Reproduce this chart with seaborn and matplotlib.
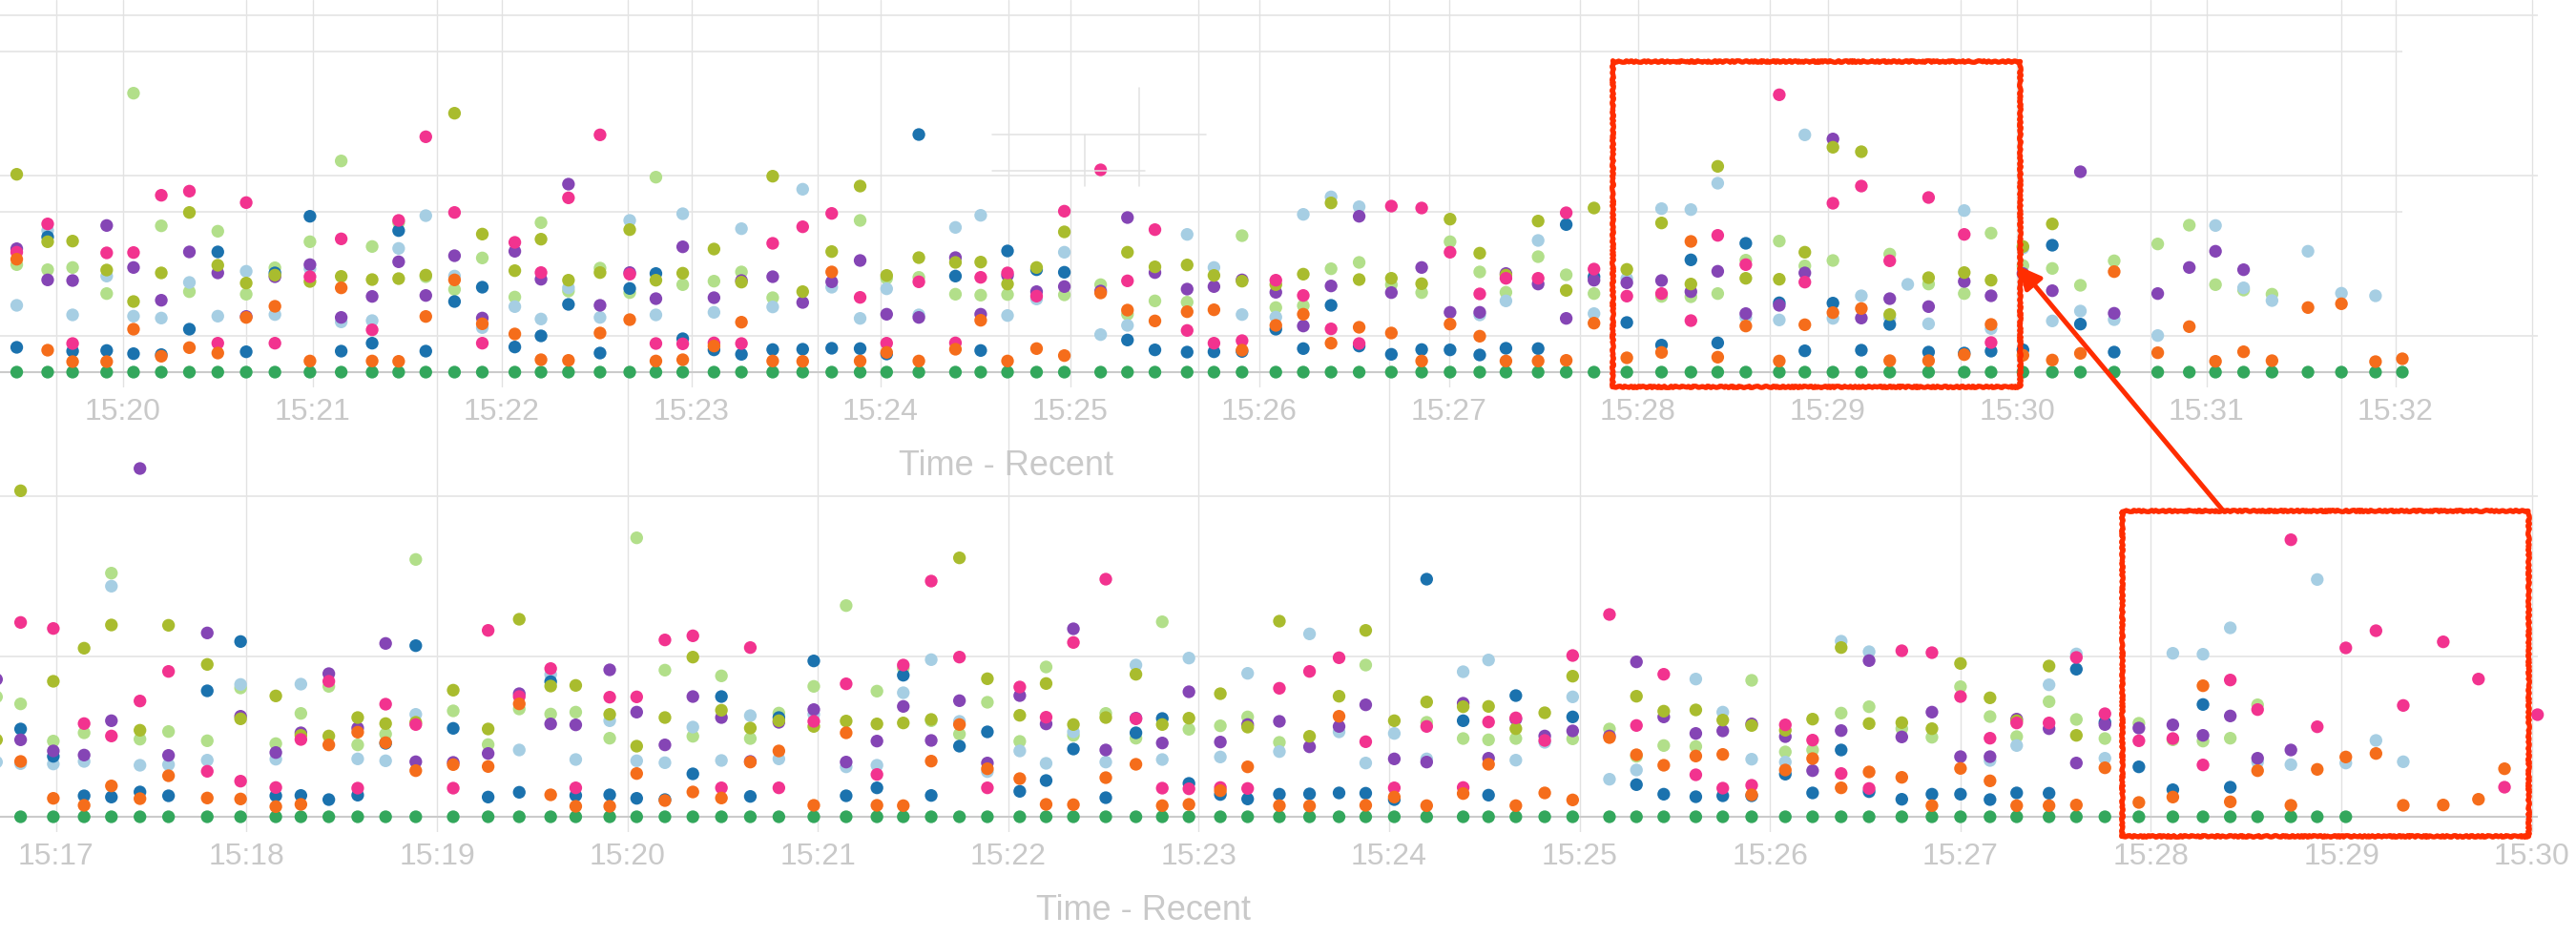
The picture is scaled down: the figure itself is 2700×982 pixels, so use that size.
'''
Two overlaid latency timelines from a dashboard screenshot, red pen marks on top.
y values are on a scale where one gridline step is 504.
'''

import seaborn as sns
import matplotlib.pyplot as plt
import pandas as pd
from matplotlib.lines import Line2D
from matplotlib.patches import Rectangle

N = None

# ---- upper chart, time in seconds after 15:00 ----
top_time = [1166.3, 1176.1, 1184.0, 1194.8, 1203.3, 1212.1, 1221.0, 1230.0, 1239.0, 1248.1,
            1259.2, 1269.1, 1278.9, 1287.3, 1295.9, 1305.0, 1313.8, 1324.1, 1332.4, 1341.1,
            1351.1, 1360.5, 1368.8, 1377.3, 1387.2, 1395.9, 1405.8, 1415.3, 1424.5, 1433.5,
            1441.9, 1452.1, 1463.7, 1471.7, 1480.2, 1489.4, 1498.2, 1509.7, 1518.2, 1526.9,
            1537.1, 1545.6, 1554.5, 1565.2, 1573.9, 1582.7, 1591.6, 1601.8, 1611.4, 1620.4,
            1629.8, 1638.1, 1648.3, 1657.2, 1666.0, 1676.4, 1687.4, 1696.7, 1705.2, 1714.1,
            1724.7, 1732.8, 1741.7, 1750.7, 1759.7, 1765.4, 1772.0, 1783.3, 1791.8, 1801.9,
            1811.2, 1820.1, 1830.8, 1844.6, 1854.6, 1862.9, 1871.8, 1880.8, 1892.2, 1902.8,
            1913.6, 1922.1]
top_zero = [0, 0, 0, 0, 0, 0, 0, 0, 0, 0, 0, 0, 0, 0, 0, 0, 0, 0, 0, 0,
            0, 0, 0, 0, 0, 0, 0, 0, 0, 0, 0, 0, 0, 0, 0, 0, 0, 0, 0, 0,
            0, 0, 0, 0, 0, 0, 0, 0, 0, 0, 0, 0, 0, 0, 0, 0, 0, 0, 0, 0,
            0, 0, 0, 0, 0, N, 0, 0, 0, 0, 0, 0, 0, 0, 0, 0, 0, 0, 0, 0,
            0, 0]
top_blue = [78, 425, 66, 68, 58, 55, 135, 378, 64, 312,
            490, 66, 91, 445, 66, 222, 267, 79, 114, 213,
            60, 263, 310, 105, 70, 56, 71, 72, 75, 74,
            57, 747, 302, 68, 381, 322, 314, N, 101, 70,
            63, 64, 65, 135, 74, 210, 82, 56, 71, 70,
            54, 75, 74, 464, 300, 156, 85, 353, 92, 405,
            218, 67, 217, 69, 150, N, 63, 60, 66, 70,
            399, 151, 63, N, N, N, N, N, N, N,
            N, N]
top_orange = [355, 69, 33, 33, 135, 50, 77, 60, 172, 207,
              35, 265, 35, 34, 175, 290, 152, 120, 39, 37,
              123, 165, 35, 39, 82, 157, 35, 34, 315, 35,
              62, 35, 72, 163, 35, 74, 52, 249, 195, 161,
              190, 196, 69, 147, 182, 91, 141, 123, 35, 151,
              113, 35, 35, 37, 154, 45, 62, 411, 47, 145,
              35, 149, 187, 200, 36, N, 36, 55, 150, 53,
              38, 59, 316, 61, 143, 34, 64, 36, 203, 215,
              33, 42]
top_pink = [377, 466, 90, 375, 376, 556, 569, 91, 533, 91,
            300, 419, 133, 477, 740, 502, 91, 408, 313, 548,
            746, 308, 90, 89, 92, 90, 405, 457, 499, 235,
            91, 284, 92, 298, 312, 239, 506, 636, 287, 448,
            131, 91, 99, 289, 241, 136, 90, 522, 516, 377,
            246, 295, 295, 501, 324, 239, 247, 162, 430, 338,
            872, 283, 531, 585, 350, N, 549, 433, 93, N,
            N, N, N, N, N, N, N, N, N, N,
            N, N]
top_purple = [388, 290, 288, 461, 329, 226, 378, 312, 175, 300,
              338, 172, 238, 347, 241, 366, 170, 380, 292, 591,
              210, 313, 231, 394, 234, 288, 300, 219, 284, 351,
              182, 172, 360, 182, 304, 253, 269, 255, 486, 313,
              261, 269, 290, 251, 145, 271, 490, 250, 329, 188,
              188, 310, 277, 169, 289, 281, 288, 253, 317, 184,
              210, 312, 733, 170, 231, N, 206, 285, 240, 310,
              256, 630, 185, 247, 329, 380, 322, N, N, N,
              N, N]
top_olive = [622, 410, 412, 321, 222, 312, 502, 336, 280, 305,
             285, 301, 291, 294, 305, 814, 434, 319, 418, 289,
             313, 448, 289, 311, 387, 283, 616, 253, 379, 585,
             304, 360, 345, 346, 277, 329, 441, N, 377, 331,
             337, 304, 286, 275, 308, 532, 291, 295, 278, 481,
             374, 305, 475, 257, 516, 323, 469, 277, 647, 295,
             292, 377, 707, 693, 181, N, 297, 313, 289, 395,
             466, N, N, N, N, N, N, N, N, N,
             N, N]
top_light_blue = [210, 445, 180, 302, 176, 170, 282, 176, 317, 181,
                  325, 158, 162, 389, 492, 302, 140, 206, 167, 265,
                  172, 477, 180, 498, 188, 451, 205, 575, 267, 169,
                  262, 180, 455, 493, 178, 230, 377, 118, 147, N,
                  433, 329, 181, 173, 496, 551, 520, N, N, N,
                  180, 224, 414, N, 184, 294, 514, 511, 594, 172,
                  164, 746, 169, 240, 170, 276, 152, 508, 137, 390,
                  161, 192, 165, 115, N, 461, 265, 225, 380, 248,
                  240, N]
top_light_green = [338, 322, 329, 247, 877, 460, 253, 443, 245, 328,
                   410, 664, 395, 470, 300, 260, 359, 236, 470, 255,
                   327, 250, 613, 275, 286, 315, 234, N, N, 477,
                   295, 298, 245, 242, 244, N, 243, 275, 182, 224,
                   220, N, 429, 203, 209, 325, 345, 275, 250, 410,
                   315, 251, 363, 306, 247, N, 238, 237, 247, 352,
                   412, 334, 351, N, 371, N, 277, 247, 437, 335,
                   326, 273, 350, 403, 462, 275, 258, 245, N, N,
                   N, N]

# ---- lower chart ----
low_time = [1001.2, 1008.8, 1019.1, 1028.8, 1037.4, 1046.4, 1055.4, 1067.6, 1078.1, 1089.2, 1097.1,
            1105.9, 1115.0, 1123.8, 1133.3, 1145.1, 1156.1, 1165.9, 1175.8, 1183.7, 1194.4,
            1202.9, 1211.8, 1220.6, 1229.6, 1238.7, 1247.7, 1258.7, 1268.9, 1278.6, 1286.9,
            1295.7, 1304.6, 1313.4, 1323.6, 1331.9, 1340.5, 1350.7, 1360.2, 1368.5, 1376.9,
            1386.8, 1395.4, 1405.4, 1414.9, 1424.2, 1432.6, 1441.6, 1451.8, 1463.3, 1471.3,
            1479.9, 1489.0, 1497.8, 1509.4, 1517.9, 1526.5, 1536.6, 1545.1, 1554.2, 1564.8,
            1573.4, 1582.4, 1591.2, 1601.5, 1611.0, 1620.0, 1629.3, 1637.7, 1647.9, 1656.5,
            1665.5, 1676.2, 1686.9, 1696.4, 1705.0, 1713.6, 1724.1, 1732.4, 1741.4, 1750.9,
            1759.5, 1772.1, 1783.2, 1791.4, 1801.8]
low_zero = [N, 0, 0, 0, 0, 0, 0, 0, 0, 0, 0,
            0, 0, 0, 0, 0, 0, 0, 0, 0, 0,
            0, 0, 0, 0, 0, 0, 0, 0, 0, 0,
            0, 0, 0, 0, 0, 0, 0, 0, 0, 0,
            0, 0, 0, 0, 0, 0, 0, 0, 0, 0,
            0, 0, 0, 0, 0, 0, 0, 0, 0, 0,
            0, 0, 0, 0, 0, 0, 0, 0, 0, 0,
            0, 0, 0, 0, 0, 0, 0, 0, 0, N,
            N, N, N, N, N]
low_blue = [N, 276, 190, 66, 62, 78, 66, 396, 551, 66, 67,
            54, 68, 231, 538, 278, 62, 77, 425, 67, 69,
            58, 54, 135, 378, 64, 312, 490, 66, 91, 445,
            67, 222, 267, 80, 114, 213, 60, 264, 309, 105,
            70, 56, 71, 72, 75, 74, 54, 747, 302, 68,
            381, N, 314, N, 101, 71, 63, 66, 66, 134,
            75, 210, 79, 55, 71, 71, 54, 75, 74, 464,
            297, 157, 85, 353, 93, N, N, N, N, N,
            N, N, N, N, N]
low_orange = [N, 174, 58, 36, 97, 57, 129, 59, 56, 32, 39,
              226, 266, 233, 145, 164, 158, 355, 69, 33, 33,
              136, 51, 78, 59, 172, 207, 36, 264, 36, 35,
              175, 290, 151, 120, 39, 38, 123, 165, 35, 39,
              82, 157, 35, 34, 316, 36, 62, 35, 73, 165,
              35, 75, 53, 249, 195, 162, 191, 196, 69, 147,
              183, 91, 141, 124, 35, 152, 113, 35, 35, 37,
              154, 45, 62, 412, 47, 145, 36, 149, 188, 199,
              36, 37, 55, 151, N]
low_pink = [N, 611, 592, 293, 254, 364, 457, 143, 112, 92, 243,
            426, 90, 354, 290, 90, 586, 378, 466, 91, 376,
            377, 556, 569, 91, 532, 91, 300, 418, 133, 477,
            741, 502, 91, 408, 313, 548, 747, 308, 90, 88,
            92, 89, 404, 457, 500, 236, 91, 284, 92, 298,
            311, 240, 507, 636, 287, 448, 132, 90, 99, 289,
            241, 136, 89, 522, 516, 378, 247, 295, 295, 501,
            324, 239, 246, 163, 430, 337, 871, 283, 531, 585,
            350, 550, 433, 93, 321]
low_purple = [432, 242, 207, 194, 302, 1095, 193, 578, 316, 202, 264,
              450, 279, 545, 173, 171, 199, 387, 292, 289, 462,
              329, 226, 378, 312, 174, 297, 337, 172, 238, 347,
              240, 365, 169, 381, 292, 591, 210, 310, 232, 393,
              235, 290, 300, 220, 284, 352, 182, 172, 357, 184,
              307, 254, 270, 254, 487, 314, 262, 270, 292, 252,
              145, 271, 491, 251, 329, 189, 189, 307, 277, 169,
              290, 279, 289, 256, 317, 184, 210, N, N, N,
              N, N, N, N, N]
low_olive = [242, 1025, 426, 530, 603, 272, 602, 479, 308, 380, 256,
             254, 312, 293, 297, 398, 276, 621, 411, 413, 322,
             222, 312, 502, 335, 279, 302, 284, 301, 292, 295,
             306, 814, 434, 319, 419, 290, 312, 448, 290, 310,
             387, 282, 615, 253, 379, 586, 302, 361, 346, 347,
             277, 327, 442, N, 379, 332, 336, 304, 287, 272,
             307, 532, 293, 296, 277, 482, 374, 302, 474, 256,
             N, N, N, N, N, N, N, N, N, N,
             N, N, N, N, N]
low_light_blue = [172, 167, 166, 174, 725, 162, 164, 178, 416, 181, 417,
                  N, 182, 176, 322, N, N, 210, 447, 180, 302,
                  176, 170, 282, 177, 318, 182, 322, 157, 162, 390,
                  494, 300, 142, 207, 168, 267, 172, 477, 180, 499,
                  188, 451, 205, 575, 267, 169, 262, 182, 456, 493,
                  178, 234, 377, 118, 147, N, 433, 329, 181, 172,
                  N, 552, 519, N, N, N, 177, 224, 415, 512,
                  184, N, 514, 511, 594, 172, 164, 746, 169, 240,
                  173, N, N, N, N]
low_light_green = [377, 355, 238, 264, 766, 244, 268, 239, 405, 230, 325,
                   410, 226, 260, 809, 333, 227, 339, 323, 329, 247,
                   877, 461, 253, 443, 246, 326, 410, 664, 395, 467,
                   302, 260, 360, 237, 471, 256, 325, 247, 613, 275,
                   286, 314, 234, N, N, 477, N, 297, 246, 242,
                   246, N, 245, 276, 190, 224, 221, N, 429, 204,
                   210, 326, 346, 277, 250, 409, 315, 252, 362, 306,
                   246, 294, 242, 238, 247, 352, N, N, N, N,
                   N, N, N, N, N]

top_tick_labels = ['15:20', '15:21', '15:22', '15:23', '15:24', '15:25', '15:26',
                   '15:27', '15:28', '15:29', '15:30', '15:31', '15:32']
low_tick_labels = ['15:17', '15:18', '15:19', '15:20', '15:21', '15:22', '15:23',
                   '15:24', '15:25', '15:26', '15:27', '15:28', '15:29', '15:30']

# drawing order matters, later series sit on top
palette = {'zero': '#33a75c', 'light_green': '#b2df8a', 'light_blue': '#a6cee3',
           'blue': '#1b72ae', 'purple': '#8545b5', 'olive': '#a9bc2e',
           'pink': '#f2338f', 'orange': '#f56d1b'}
GRID_STEP = 504
W, H = 2700, 982

sns.set_theme(style='white')
plt.rcParams['font.family'] = ['Liberation Sans', 'DejaVu Sans']


def long_form(time, series):
    frames = [pd.DataFrame({'time': time, 'value': pd.to_numeric(pd.Series(vals), errors='coerce'),
                            'series': name}) for name, vals in series]
    return pd.concat(frames, ignore_index=True)


def panel(fig, box, df, xlim, ylim, first_minute, tick_labels, n_grid, label_xy):
    # box is left, top, right, bottom in pixels from the top left corner
    left, top, right, bottom = box
    ax = fig.add_axes([left / W, 1 - bottom / H, (right - left) / W, (bottom - top) / H])
    ax.patch.set_alpha(0)
    ax.set_axisbelow(True)
    sns.scatterplot(data=df, x='time', y='value', hue='series', palette=palette, s=92,
                    linewidth=0, legend=False, clip_on=False, ax=ax, zorder=3)
    ax.set_xlim(*xlim)
    ax.set_ylim(*ylim)
    ax.set_yticks([GRID_STEP * i for i in range(n_grid)])
    ax.set_yticklabels([])
    ax.set_xticks([(first_minute + i) * 60 for i in range(len(tick_labels))])
    ax.set_xticklabels(tick_labels, fontsize=23, color='#c9c9c9')
    ax.tick_params(length=0, pad=8, left=False)
    ax.grid(True, axis='y', color='#e6e6e6', lw=1.3)
    ax.grid(True, axis='x', color='#e2e2e2', lw=1.0)
    ax.axhline(0, color='#cbcbcb', lw=1.5, zorder=2)
    ax.set_xlabel('Time - Recent', fontsize=26, color='#c9c9c9', va='center')
    ax.xaxis.set_label_coords(*label_xy)
    ax.set_ylabel('')
    sns.despine(ax=ax, left=True, bottom=True)
    return ax


def px_line(fig, xs, ys, **kw):
    fig.add_artist(Line2D([x / W for x in xs], [1 - y / H for y in ys],
                          transform=fig.transFigure, **kw))


def pen_box(fig, left, top, right, bottom):
    box = Rectangle((left / W, 1 - bottom / H), (right - left) / W, (bottom - top) / H,
                    transform=fig.transFigure, fill=False, ec='#ff2d00', lw=3.8, zorder=10,
                    joinstyle='round')
    box.set_sketch_params(scale=0.8, length=8, randomness=4)
    fig.add_artist(box)


fig = plt.figure(figsize=(W / 100, H / 100), dpi=100)

low_df = long_form(low_time, [('zero', low_zero), ('light_green', low_light_green),
                              ('light_blue', low_light_blue), ('blue', low_blue),
                              ('purple', low_purple), ('olive', low_olive),
                              ('pink', low_pink), ('orange', low_orange)])
panel(fig, (0, 0, 2660, 872), low_df, (1002.3, 1801.9), (-48, 2568), 17, low_tick_labels, 6,
      (1198 / 2660, 1 - 954 / 872))

top_df = long_form(top_time, [('zero', top_zero), ('light_green', top_light_green),
                              ('light_blue', top_light_blue), ('blue', top_blue),
                              ('purple', top_purple), ('olive', top_olive),
                              ('pink', top_pink), ('orange', top_orange)])
panel(fig, (0, 0, 2518, 406), top_df, (1161.0, 1922.1), (-48, 1170), 20, top_tick_labels, 3,
      (1055 / 2518, 1 - 488 / 406))

# stray grid fragments left over in the screenshot
for xs, ys in [((1040, 1264), (141, 141)), ((1040, 1200), (179, 179)),
               ((1137, 1137), (141, 195)), ((1194, 1194), (92, 195))]:
    px_line(fig, xs, ys, color='#e2e2e2', lw=1.1, zorder=1)

# red pen marks
pen_box(fig, 1690, 64, 2117, 405)
pen_box(fig, 2224, 535, 2650, 876)
arrow = plt.annotate('', xy=(2116, H - 279), xytext=(2330, H - 535),
                     xycoords='figure pixels', textcoords='figure pixels', annotation_clip=False,
                     arrowprops=dict(arrowstyle='-|>', color='#ff2d00', lw=3.6, mutation_scale=34,
                                     shrinkA=0, shrinkB=0))

plt.savefig('out.png', dpi=100)
